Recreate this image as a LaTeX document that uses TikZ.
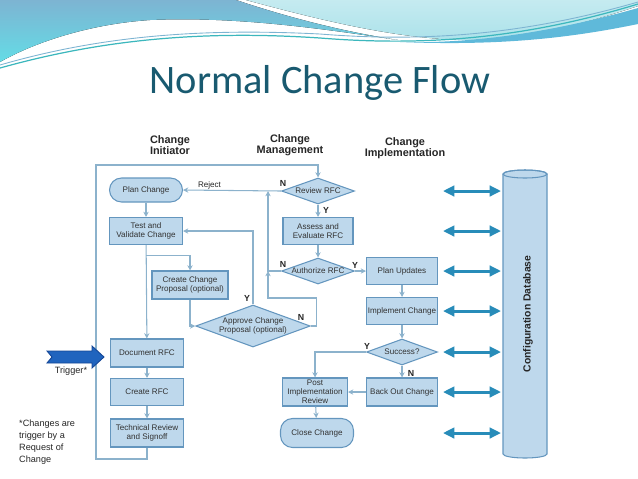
\documentclass[tikz,border=0pt]{standalone}
\usepackage{fontspec}
\setmainfont{Liberation Sans}
\newfontfamily\titlefont{Carlito}
\usetikzlibrary{shapes.geometric,arrows.meta}

\definecolor{boxfill}{RGB}{190,216,236}
\definecolor{boxline}{RGB}{100,150,190}
\definecolor{flowline}{RGB}{140,178,204}
\definecolor{dblblue}{RGB}{40,140,185}
\definecolor{titleteal}{RGB}{25,90,112}
\definecolor{wavesteel}{RGB}{125,180,210}
\definecolor{wavecyan}{RGB}{100,220,230}
\definecolor{wavelight}{RGB}{172,226,234}
\definecolor{waveband}{RGB}{95,185,218}
\definecolor{trigblue}{RGB}{32,100,190}
\definecolor{trigedge}{RGB}{20,70,150}

\begin{document}
\begin{tikzpicture}[x=0.02cm, y=-0.02cm,
    box/.style={draw=boxline, fill=boxfill, line width=0.6pt, minimum width=1.46cm,
        minimum height=0.54cm, inner sep=1pt, align=center, text=black!80,
        font=\fontsize{4.6}{5.2}\selectfont},
    rbox/.style={box, rounded corners=0.24cm},
    dia/.style={box, diamond, aspect=2.8, inner sep=0pt, minimum width=1.46cm, minimum height=0.52cm},
    flow/.style={draw=flowline, line width=0.6pt, -{Stealth[length=3pt,width=3pt]}},
    yn/.style={font=\bfseries\fontsize{5}{6}\selectfont, text=black!85},
    hdr/.style={font=\bfseries\fontsize{6.2}{6.6}\selectfont, align=center, text=black!85},
    dbl/.style={draw=dblblue, line width=1.7pt, {Triangle[length=6.5pt,width=6pt]}-{Triangle[length=6.5pt,width=6pt]}},
    note/.style={font=\fontsize{5.2}{6.8}\selectfont, align=left, text=black!85}]
    \useasboundingbox (0,0) rectangle (638,478);

    % header waves
    \fill[top color=wavesteel, bottom color=wavecyan] (0,0) -- (236,0)
        .. controls (290,18) and (345,32) .. (398,40)
        .. controls (330,30) and (240,16) .. (150,20)
        .. controls (90,24) and (35,42) .. (0,62) -- cycle;
    \fill[top color=wavelight!70!white, bottom color=wavelight] (246,0) -- (638,0) -- (638,6)
        .. controls (590,22) and (530,38) .. (470,40)
        .. controls (400,40) and (320,20) .. (246,0) -- cycle;
    \fill[waveband] (400,42) .. controls (480,44) and (560,30) .. (638,8)
        -- (638,24) .. controls (570,38) and (500,46) .. (400,42) -- cycle;
    \draw[wavecyan!60!teal, line width=0.7pt] (0,68) .. controls (100,40) and (200,30) .. (320,38)
        .. controls (420,46) and (520,40) .. (638,4);
    \draw[wavesteel, line width=0.5pt] (0,65) .. controls (100,36) and (200,28) .. (320,34)
        .. controls (420,42) and (520,36) .. (638,2);

    \node[font=\titlefont\fontsize{23}{27}\selectfont, text=titleteal, anchor=base] (ttl) at (320,93) {Normal Change Flow};

    % lane headers
    \node[hdr] (hinit) at (170,145) {Change\\Initiator};
    \node[hdr] (hmgmt) at (290,145) {Change\\Management};
    \node[hdr] (himpl) at (405,148) {Change\\Implementation};

    % change initiator
    \node[rbox, minimum height=0.48cm] (plan) at (146,190) {Plan Change};
    \node[box] (test) at (146,231) {Test and\\Validate Change};
    \node[box, minimum width=1.52cm, minimum height=0.56cm] (prop) at (190,285) {Create Change\\Proposal (optional)};
    \node[dia, minimum width=2cm, minimum height=0.84cm] (appr) at (253,326) {Approve Change\\Proposal (optional)};
    \node[box, minimum height=0.56cm] (doc) at (147,353) {Document RFC};
    \node[box] (create) at (147,392) {Create RFC};
    \node[box, minimum height=0.56cm] (tech) at (147,433) {Technical Review\\and Signoff};

    % change management
    \node[dia] (review) at (318,191) {Review RFC};
    \node[box, minimum width=1.4cm] (assess) at (318,231) {Assess and\\Evaluate RFC};
    \node[dia] (auth) at (318,271) {Authorize RFC};
    \node[box, minimum width=1.3cm, minimum height=0.56cm, inner sep=0pt] (post) at (315,392) {Post\\Implementation\\Review};
    \node[rbox, minimum height=0.58cm] (close) at (317,433) {Close Change};

    % change implementation
    \node[box, minimum width=1.42cm] (pupd) at (402,271) {Plan Updates};
    \node[box, minimum width=1.42cm, inner xsep=0pt] (impl) at (402,311) {Implement Change};
    \node[dia, minimum width=1.42cm] (succ) at (402,352) {Success?};
    \node[box, minimum width=1.42cm, minimum height=0.56cm] (back) at (402,392) {Back Out Change};

    % configuration database
    \filldraw[fill=boxfill, draw=boxline, line width=0.6pt] (503,174) -- (503,454)
        arc[start angle=180, end angle=0, x radius=22, y radius=4] -- (547,174)
        arc[start angle=0, end angle=-180, x radius=22, y radius=4] -- cycle;
    \draw[boxline, line width=0.6pt] (525,174) ellipse[x radius=22, y radius=4];
    \node[rotate=90, text=black!85, font=\bfseries\fontsize{5.9}{7}\selectfont] (db) at (528,314) {Configuration Database};

    \coordinate (nj) at (268,298);
    \coordinate (lb) at (96,459);
    \coordinate (lt) at (96,165);
    \coordinate (dbl0) at (443,0);
    \coordinate (dbl1) at (501,0);

    \draw[flow] (plan) -- (test);
    \draw[flow] (test) -- (doc);
    \draw[flow] (test.south) ++(0,10) -| (prop.north);
    \draw[flow] (prop.south) |- (appr.west);
    \draw[flow] (appr.north) |- (test.east);
    \draw[flow] (appr.east) -- ++(6,0) |- (nj) -- (nj |- auth.west);
    \draw[flow] (auth.west) -| (nj |- review.west);
    \draw[flow] (review.west) -- (plan.east) node[pos=0.73, above, inner sep=0.5pt, font=\fontsize{4.6}{5}\selectfont, text=black!85] {Reject};
    \draw[flow] (review) -- (assess);
    \draw[flow] (assess) -- (auth);
    \draw[flow] (auth) -- (pupd);
    \draw[flow] (pupd) -- (impl);
    \draw[flow] (impl) -- (succ);
    \draw[flow] (succ.west) -| (post.north);
    \draw[flow] (succ) -- (back);
    \draw[flow] (back) -- (post);
    \draw[flow] (post) -- (close);
    \draw[flow] (doc) -- (create);
    \draw[flow] (create) -- (tech);
    \draw[flow] (tech.south) |- (lb) -- (lt) -| (review.north);

    \node[yn] (nrev) at (283,183) {N};
    \node[yn] (yrev) at (326,210) {Y};
    \node[yn] (naut) at (283,264) {N};
    \node[yn] (yaut) at (355,265) {Y};
    \node[yn] (yapp) at (247,298) {Y};
    \node[yn] (napp) at (301,317) {N};
    \node[yn] (ysuc) at (367,346) {Y};
    \node[yn] (nsuc) at (411,373) {N};

    \foreach \n in {review,assess,pupd,impl,succ,back,close}
        \draw[dbl] (\n -| dbl0) -- (\n -| dbl1);

    % trigger
    \filldraw[fill=trigblue, draw=trigedge, line width=0.5pt] (47,351) -- (92,351) -- (92,346) -- (104,357)
        -- (92,368) -- (92,363) -- (47,363) -- (52,357) -- cycle;
    \node[note] (trl) at (71,371) {Trigger*};
    \node[note, anchor=north west] (nt) at (13,414) {*Changes are\\trigger by a\\Request of\\Change};
\end{tikzpicture}
\end{document}
